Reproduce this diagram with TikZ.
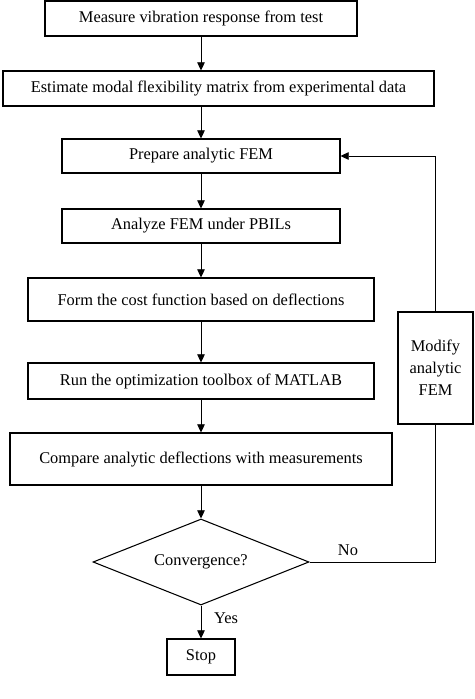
\documentclass[tikz,border=0pt]{standalone}
\usepackage{fontspec}
\setmainfont{Liberation Serif}
\usepackage{tikz}
\usetikzlibrary{arrows.meta,shapes.geometric}

\tikzset{
    stepbox/.style={draw, line width=0.9pt, inner sep=0pt, align=center,
        font=\fontsize{14}{18.7}\selectfont},
    decision/.style={draw, diamond, aspect=2.5, line width=0.9pt, inner sep=0pt,
        font=\fontsize{14}{16}\selectfont},
    flow/.style={line width=0.8pt, -{Triangle[length=7pt,width=6.5pt]}},
    loopline/.style={line width=0.8pt},
    lbl/.style={font=\fontsize{14}{16}\selectfont},
}

\begin{document}
\begin{tikzpicture}[x=0.03cm, y=-0.03cm]
        \useasboundingbox (0,0) rectangle (474,699);

        % boxes
        \node[stepbox, minimum width=9.36cm, minimum height=1.05cm] (measure) at (201,18.5) {Measure vibration response from test};
        \node[stepbox, minimum width=12.93cm, minimum height=1.05cm] (estimate) at (218.5,88.5) {Estimate modal flexibility matrix from experimental data};
        \node[stepbox, minimum width=8.34cm, minimum height=1.02cm] (prepare) at (201,156) {Prepare analytic FEM};
        \node[stepbox, minimum width=8.34cm, minimum height=1.02cm] (analyze) at (201,226) {Analyze FEM under PBILs};
        \node[stepbox, minimum width=10.38cm, minimum height=1.29cm] (cost) at (201,299.5) {Form the cost function based on deflections};
        \node[stepbox, minimum width=10.38cm, minimum height=1.08cm] (optim) at (201,381) {Run the optimization toolbox of MATLAB};
        \node[stepbox, minimum width=11.46cm, minimum height=1.56cm] (compare) at (201,459) {Compare analytic deflections with measurements};
        \node[decision, minimum width=6.48cm, minimum height=2.58cm] (conv) at (201,562) {Convergence?};
        \node[stepbox, minimum width=2.04cm, minimum height=1.08cm] (stop) at (201,657) {Stop};
        \node[stepbox, minimum width=2.25cm, minimum height=3.36cm] (modify) at (435.5,368) {Modify\\analytic\\FEM};

        % main flow
        \draw[flow] (measure.south) -- (measure.south |- estimate.north);
        \draw[flow] (measure.south |- estimate.south) -- (prepare.north);
        \draw[flow] (prepare) -- (analyze);
        \draw[flow] (analyze) -- (cost);
        \draw[flow] (cost) -- (optim);
        \draw[flow] (optim) -- (compare);
        \draw[flow] (compare.south) -- (conv.north);
        \draw[flow] (conv.south) -- (stop.north);
        \node[lbl] (yes) at (226,618) {Yes};

        % loop back
        \draw[loopline] (conv.east) -| (modify.south);
        \draw[flow] (modify.north) |- (prepare.east);
        \node[lbl] (no) at (348,550) {No};

    \end{tikzpicture}
\end{document}
